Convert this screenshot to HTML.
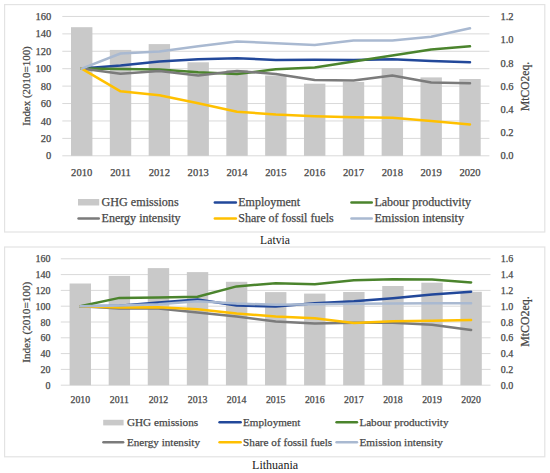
<!DOCTYPE html>
<html><head><meta charset="utf-8"><title>Latvia and Lithuania decomposition</title>
<style>
html,body{margin:0;padding:0;background:#fff;}
body{width:550px;height:473px;overflow:hidden;}
svg{display:block;font-family:"Liberation Serif", serif;}
</style></head>
<body>
<svg width="550" height="473" viewBox="0 0 550 473">
<rect x="0" y="0" width="550" height="473" fill="#fff"/>
<rect x="4.6" y="4.6" width="540.1999999999999" height="227.4" fill="#fff" stroke="#E3E3E3" stroke-width="1.2"/>
<line x1="62.3" y1="155.8" x2="489.4" y2="155.8" stroke="#D9D9D9" stroke-width="1"/>
<line x1="62.3" y1="138.38" x2="489.4" y2="138.38" stroke="#D9D9D9" stroke-width="1"/>
<line x1="62.3" y1="120.96" x2="489.4" y2="120.96" stroke="#D9D9D9" stroke-width="1"/>
<line x1="62.3" y1="103.54" x2="489.4" y2="103.54" stroke="#D9D9D9" stroke-width="1"/>
<line x1="62.3" y1="86.12" x2="489.4" y2="86.12" stroke="#D9D9D9" stroke-width="1"/>
<line x1="62.3" y1="68.7" x2="489.4" y2="68.7" stroke="#D9D9D9" stroke-width="1"/>
<line x1="62.3" y1="51.28" x2="489.4" y2="51.28" stroke="#D9D9D9" stroke-width="1"/>
<line x1="62.3" y1="33.86" x2="489.4" y2="33.86" stroke="#D9D9D9" stroke-width="1"/>
<line x1="62.3" y1="16.44" x2="489.4" y2="16.44" stroke="#D9D9D9" stroke-width="1"/>
<rect x="71" y="27.2" width="21.4" height="128.6" fill="#C9C9C9"/>
<rect x="109.83" y="49.9" width="21.4" height="105.9" fill="#C9C9C9"/>
<rect x="148.66" y="44.1" width="21.4" height="111.7" fill="#C9C9C9"/>
<rect x="187.49" y="62.3" width="21.4" height="93.5" fill="#C9C9C9"/>
<rect x="226.32" y="69.9" width="21.4" height="85.9" fill="#C9C9C9"/>
<rect x="265.15" y="75.5" width="21.4" height="80.3" fill="#C9C9C9"/>
<rect x="303.98" y="83.7" width="21.4" height="72.1" fill="#C9C9C9"/>
<rect x="342.81" y="81.9" width="21.4" height="73.9" fill="#C9C9C9"/>
<rect x="381.64" y="68.1" width="21.4" height="87.7" fill="#C9C9C9"/>
<rect x="420.47" y="77.4" width="21.4" height="78.4" fill="#C9C9C9"/>
<rect x="459.3" y="79" width="21.4" height="76.8" fill="#C9C9C9"/>
<path d="M81.7,68.6 L120.53,65.6 L159.36,61.5 L198.19,59.3 L237.02,58.3 L275.85,59.9 L314.68,59.7 L353.51,59.9 L392.34,59.3 L431.17,61 L470,62.3" fill="none" stroke="#22489A" stroke-width="2.5" stroke-linecap="round" stroke-linejoin="round"/>
<path d="M81.7,68.6 L120.53,69.1 L159.36,69.5 L198.19,72.3 L237.02,74.1 L275.85,69.2 L314.68,67.5 L353.51,61.4 L392.34,55.6 L431.17,49.5 L470,46.3" fill="none" stroke="#4B842D" stroke-width="2.5" stroke-linecap="round" stroke-linejoin="round"/>
<path d="M81.7,68.6 L120.53,73.8 L159.36,71 L198.19,75.4 L237.02,71 L275.85,74 L314.68,80 L353.51,80.5 L392.34,75.4 L431.17,82.6 L470,83.2" fill="none" stroke="#7B7B7B" stroke-width="2.5" stroke-linecap="round" stroke-linejoin="round"/>
<path d="M81.7,68.6 L120.53,91.3 L159.36,95.2 L198.19,103.2 L237.02,111.8 L275.85,114.5 L314.68,116.2 L353.51,117.3 L392.34,117.7 L431.17,120.9 L470,124.5" fill="none" stroke="#FFC000" stroke-width="2.5" stroke-linecap="round" stroke-linejoin="round"/>
<path d="M81.7,68.6 L120.53,53.5 L159.36,51.4 L198.19,46.3 L237.02,41.4 L275.85,43.2 L314.68,45 L353.51,40.5 L392.34,40.5 L431.17,36.8 L470,28.3" fill="none" stroke="#A9B9D1" stroke-width="2.5" stroke-linecap="round" stroke-linejoin="round"/>
<text x="51.2" y="159.4" font-size="10.5" fill="#474747" text-anchor="end" stroke="#474747" stroke-width="0.25">0</text>
<text x="51.2" y="141.98" font-size="10.5" fill="#474747" text-anchor="end" stroke="#474747" stroke-width="0.25">20</text>
<text x="51.2" y="124.56" font-size="10.5" fill="#474747" text-anchor="end" stroke="#474747" stroke-width="0.25">40</text>
<text x="51.2" y="107.14" font-size="10.5" fill="#474747" text-anchor="end" stroke="#474747" stroke-width="0.25">60</text>
<text x="51.2" y="89.72" font-size="10.5" fill="#474747" text-anchor="end" stroke="#474747" stroke-width="0.25">80</text>
<text x="51.2" y="72.3" font-size="10.5" fill="#474747" text-anchor="end" stroke="#474747" stroke-width="0.25">100</text>
<text x="51.2" y="54.88" font-size="10.5" fill="#474747" text-anchor="end" stroke="#474747" stroke-width="0.25">120</text>
<text x="51.2" y="37.46" font-size="10.5" fill="#474747" text-anchor="end" stroke="#474747" stroke-width="0.25">140</text>
<text x="51.2" y="20.04" font-size="10.5" fill="#474747" text-anchor="end" stroke="#474747" stroke-width="0.25">160</text>
<text x="500.4" y="159.4" font-size="10.5" fill="#474747" stroke="#474747" stroke-width="0.25">0.0</text>
<text x="500.4" y="136.18" font-size="10.5" fill="#474747" stroke="#474747" stroke-width="0.25">0.2</text>
<text x="500.4" y="112.97" font-size="10.5" fill="#474747" stroke="#474747" stroke-width="0.25">0.4</text>
<text x="500.4" y="89.75" font-size="10.5" fill="#474747" stroke="#474747" stroke-width="0.25">0.6</text>
<text x="500.4" y="66.53" font-size="10.5" fill="#474747" stroke="#474747" stroke-width="0.25">0.8</text>
<text x="500.4" y="43.32" font-size="10.5" fill="#474747" stroke="#474747" stroke-width="0.25">1.0</text>
<text x="500.4" y="20.1" font-size="10.5" fill="#474747" stroke="#474747" stroke-width="0.25">1.2</text>
<text x="81.7" y="175.5" font-size="10.6" fill="#474747" text-anchor="middle" stroke="#474747" stroke-width="0.25">2010</text>
<text x="120.53" y="175.5" font-size="10.6" fill="#474747" text-anchor="middle" stroke="#474747" stroke-width="0.25">2011</text>
<text x="159.36" y="175.5" font-size="10.6" fill="#474747" text-anchor="middle" stroke="#474747" stroke-width="0.25">2012</text>
<text x="198.19" y="175.5" font-size="10.6" fill="#474747" text-anchor="middle" stroke="#474747" stroke-width="0.25">2013</text>
<text x="237.02" y="175.5" font-size="10.6" fill="#474747" text-anchor="middle" stroke="#474747" stroke-width="0.25">2014</text>
<text x="275.85" y="175.5" font-size="10.6" fill="#474747" text-anchor="middle" stroke="#474747" stroke-width="0.25">2015</text>
<text x="314.68" y="175.5" font-size="10.6" fill="#474747" text-anchor="middle" stroke="#474747" stroke-width="0.25">2016</text>
<text x="353.51" y="175.5" font-size="10.6" fill="#474747" text-anchor="middle" stroke="#474747" stroke-width="0.25">2017</text>
<text x="392.34" y="175.5" font-size="10.6" fill="#474747" text-anchor="middle" stroke="#474747" stroke-width="0.25">2018</text>
<text x="431.17" y="175.5" font-size="10.6" fill="#474747" text-anchor="middle" stroke="#474747" stroke-width="0.25">2019</text>
<text x="470" y="175.5" font-size="10.6" fill="#474747" text-anchor="middle" stroke="#474747" stroke-width="0.25">2020</text>
<text x="29.6" y="86" font-size="11" fill="#474747" text-anchor="middle" textLength="79.5" lengthAdjust="spacingAndGlyphs" transform="rotate(-90 29.6 86)" stroke="#474747" stroke-width="0.25">Index (2010=100)</text>
<text x="528.6" y="86.4" font-size="11.5" fill="#474747" text-anchor="middle" textLength="49" lengthAdjust="spacingAndGlyphs" transform="rotate(-90 528.6 86.4)" stroke="#474747" stroke-width="0.25">MtCO2eq.</text>
<rect x="78" y="199" width="21.2" height="6.5" fill="#C9C9C9"/>
<text x="101.6" y="205.7" font-size="12" fill="#474747" textLength="77" lengthAdjust="spacingAndGlyphs" stroke="#474747" stroke-width="0.25">GHG emissions</text>
<line x1="214.85" y1="202.4" x2="235.85" y2="202.4" stroke="#22489A" stroke-width="2.5" stroke-linecap="round"/>
<text x="238.3" y="205.7" font-size="12" fill="#474747" textLength="61.8" lengthAdjust="spacingAndGlyphs" stroke="#474747" stroke-width="0.25">Employment</text>
<line x1="351.45" y1="202.4" x2="371.75" y2="202.4" stroke="#4B842D" stroke-width="2.5" stroke-linecap="round"/>
<text x="374.4" y="205.7" font-size="12" fill="#474747" textLength="96.6" lengthAdjust="spacingAndGlyphs" stroke="#474747" stroke-width="0.25">Labour productivity</text>
<line x1="78.55" y1="218.4" x2="98.75" y2="218.4" stroke="#7B7B7B" stroke-width="2.5" stroke-linecap="round"/>
<text x="101.6" y="222.3" font-size="12" fill="#474747" textLength="79" lengthAdjust="spacingAndGlyphs" stroke="#474747" stroke-width="0.25">Energy intensity</text>
<line x1="214.85" y1="218.4" x2="235.85" y2="218.4" stroke="#FFC000" stroke-width="2.5" stroke-linecap="round"/>
<text x="238.3" y="222.3" font-size="12" fill="#474747" textLength="95.4" lengthAdjust="spacingAndGlyphs" stroke="#474747" stroke-width="0.25">Share of fossil fuels</text>
<line x1="351.45" y1="218.4" x2="371.75" y2="218.4" stroke="#A9B9D1" stroke-width="2.5" stroke-linecap="round"/>
<text x="374.4" y="222.3" font-size="12" fill="#474747" textLength="89.6" lengthAdjust="spacingAndGlyphs" stroke="#474747" stroke-width="0.25">Emission intensity</text>
<text x="275" y="243.6" font-size="12" fill="#1a1a1a" text-anchor="middle" textLength="29.8" lengthAdjust="spacingAndGlyphs">Latvia</text>
<rect x="4.6" y="247" width="540.1999999999999" height="209.8" fill="#fff" stroke="#E3E3E3" stroke-width="1.2"/>
<line x1="60.8" y1="385.2" x2="490.5" y2="385.2" stroke="#D9D9D9" stroke-width="1"/>
<line x1="60.8" y1="369.4" x2="490.5" y2="369.4" stroke="#D9D9D9" stroke-width="1"/>
<line x1="60.8" y1="353.6" x2="490.5" y2="353.6" stroke="#D9D9D9" stroke-width="1"/>
<line x1="60.8" y1="337.8" x2="490.5" y2="337.8" stroke="#D9D9D9" stroke-width="1"/>
<line x1="60.8" y1="322" x2="490.5" y2="322" stroke="#D9D9D9" stroke-width="1"/>
<line x1="60.8" y1="306.2" x2="490.5" y2="306.2" stroke="#D9D9D9" stroke-width="1"/>
<line x1="60.8" y1="290.4" x2="490.5" y2="290.4" stroke="#D9D9D9" stroke-width="1"/>
<line x1="60.8" y1="274.6" x2="490.5" y2="274.6" stroke="#D9D9D9" stroke-width="1"/>
<line x1="60.8" y1="258.8" x2="490.5" y2="258.8" stroke="#D9D9D9" stroke-width="1"/>
<rect x="69.6" y="283.5" width="21.4" height="101.7" fill="#C9C9C9"/>
<rect x="108.68" y="275.9" width="21.4" height="109.3" fill="#C9C9C9"/>
<rect x="147.76" y="268.1" width="21.4" height="117.1" fill="#C9C9C9"/>
<rect x="186.84" y="272.1" width="21.4" height="113.1" fill="#C9C9C9"/>
<rect x="225.92" y="281.8" width="21.4" height="103.4" fill="#C9C9C9"/>
<rect x="265" y="292.1" width="21.4" height="93.1" fill="#C9C9C9"/>
<rect x="304.08" y="293.6" width="21.4" height="91.6" fill="#C9C9C9"/>
<rect x="343.16" y="292" width="21.4" height="93.2" fill="#C9C9C9"/>
<rect x="382.24" y="286" width="21.4" height="99.2" fill="#C9C9C9"/>
<rect x="421.32" y="282.7" width="21.4" height="102.5" fill="#C9C9C9"/>
<rect x="460.4" y="291.8" width="21.4" height="93.4" fill="#C9C9C9"/>
<path d="M80.3,306.2 L119.38,305.7 L158.46,302.5 L197.54,299.6 L236.62,305.5 L275.7,306.4 L314.78,303.3 L353.86,301.3 L392.94,298.2 L432.02,294.4 L471.1,291.8" fill="none" stroke="#22489A" stroke-width="2.5" stroke-linecap="round" stroke-linejoin="round"/>
<path d="M80.3,306.2 L119.38,297.9 L158.46,297.4 L197.54,296.8 L236.62,286.4 L275.7,283.2 L314.78,284.2 L353.86,280.3 L392.94,279.2 L432.02,279.6 L471.1,282.4" fill="none" stroke="#4B842D" stroke-width="2.5" stroke-linecap="round" stroke-linejoin="round"/>
<path d="M80.3,306.2 L119.38,308.5 L158.46,308.6 L197.54,312.4 L236.62,316.4 L275.7,321.6 L314.78,323.6 L353.86,322.7 L392.94,322.7 L432.02,324.8 L471.1,330" fill="none" stroke="#7B7B7B" stroke-width="2.5" stroke-linecap="round" stroke-linejoin="round"/>
<path d="M80.3,306.2 L119.38,307.4 L158.46,307.3 L197.54,309.3 L236.62,313.6 L275.7,316.4 L314.78,318.2 L353.86,322.9 L392.94,321.3 L432.02,320.7 L471.1,320" fill="none" stroke="#FFC000" stroke-width="2.5" stroke-linecap="round" stroke-linejoin="round"/>
<path d="M80.3,306.2 L119.38,305.4 L158.46,304.2 L197.54,301.3 L236.62,303.6 L275.7,304.7 L314.78,304.2 L353.86,303.8 L392.94,303.6 L432.02,303.2 L471.1,303.3" fill="none" stroke="#A9B9D1" stroke-width="2.5" stroke-linecap="round" stroke-linejoin="round"/>
<text x="50.6" y="388.7" font-size="10" fill="#474747" text-anchor="end" stroke="#474747" stroke-width="0.25">0</text>
<text x="50.6" y="372.9" font-size="10" fill="#474747" text-anchor="end" stroke="#474747" stroke-width="0.25">20</text>
<text x="50.6" y="357.1" font-size="10" fill="#474747" text-anchor="end" stroke="#474747" stroke-width="0.25">40</text>
<text x="50.6" y="341.3" font-size="10" fill="#474747" text-anchor="end" stroke="#474747" stroke-width="0.25">60</text>
<text x="50.6" y="325.5" font-size="10" fill="#474747" text-anchor="end" stroke="#474747" stroke-width="0.25">80</text>
<text x="50.6" y="309.7" font-size="10" fill="#474747" text-anchor="end" stroke="#474747" stroke-width="0.25">100</text>
<text x="50.6" y="293.9" font-size="10" fill="#474747" text-anchor="end" stroke="#474747" stroke-width="0.25">120</text>
<text x="50.6" y="278.1" font-size="10" fill="#474747" text-anchor="end" stroke="#474747" stroke-width="0.25">140</text>
<text x="50.6" y="262.3" font-size="10" fill="#474747" text-anchor="end" stroke="#474747" stroke-width="0.25">160</text>
<text x="500.8" y="388.7" font-size="10" fill="#474747" stroke="#474747" stroke-width="0.25">0.0</text>
<text x="500.8" y="372.9" font-size="10" fill="#474747" stroke="#474747" stroke-width="0.25">0.2</text>
<text x="500.8" y="357.1" font-size="10" fill="#474747" stroke="#474747" stroke-width="0.25">0.4</text>
<text x="500.8" y="341.3" font-size="10" fill="#474747" stroke="#474747" stroke-width="0.25">0.6</text>
<text x="500.8" y="325.5" font-size="10" fill="#474747" stroke="#474747" stroke-width="0.25">0.8</text>
<text x="500.8" y="309.7" font-size="10" fill="#474747" stroke="#474747" stroke-width="0.25">1.0</text>
<text x="500.8" y="293.9" font-size="10" fill="#474747" stroke="#474747" stroke-width="0.25">1.2</text>
<text x="500.8" y="278.1" font-size="10" fill="#474747" stroke="#474747" stroke-width="0.25">1.4</text>
<text x="500.8" y="262.3" font-size="10" fill="#474747" stroke="#474747" stroke-width="0.25">1.6</text>
<text x="80.3" y="402.8" font-size="9.8" fill="#474747" text-anchor="middle" stroke="#474747" stroke-width="0.25">2010</text>
<text x="119.38" y="402.8" font-size="9.8" fill="#474747" text-anchor="middle" stroke="#474747" stroke-width="0.25">2011</text>
<text x="158.46" y="402.8" font-size="9.8" fill="#474747" text-anchor="middle" stroke="#474747" stroke-width="0.25">2012</text>
<text x="197.54" y="402.8" font-size="9.8" fill="#474747" text-anchor="middle" stroke="#474747" stroke-width="0.25">2013</text>
<text x="236.62" y="402.8" font-size="9.8" fill="#474747" text-anchor="middle" stroke="#474747" stroke-width="0.25">2014</text>
<text x="275.7" y="402.8" font-size="9.8" fill="#474747" text-anchor="middle" stroke="#474747" stroke-width="0.25">2015</text>
<text x="314.78" y="402.8" font-size="9.8" fill="#474747" text-anchor="middle" stroke="#474747" stroke-width="0.25">2016</text>
<text x="353.86" y="402.8" font-size="9.8" fill="#474747" text-anchor="middle" stroke="#474747" stroke-width="0.25">2017</text>
<text x="392.94" y="402.8" font-size="9.8" fill="#474747" text-anchor="middle" stroke="#474747" stroke-width="0.25">2018</text>
<text x="432.02" y="402.8" font-size="9.8" fill="#474747" text-anchor="middle" stroke="#474747" stroke-width="0.25">2019</text>
<text x="471.1" y="402.8" font-size="9.8" fill="#474747" text-anchor="middle" stroke="#474747" stroke-width="0.25">2020</text>
<text x="29.6" y="322.3" font-size="11" fill="#474747" text-anchor="middle" textLength="81" lengthAdjust="spacingAndGlyphs" transform="rotate(-90 29.6 322.3)" stroke="#474747" stroke-width="0.25">Index (2010=100)</text>
<text x="529.2" y="321.6" font-size="11.8" fill="#474747" text-anchor="middle" textLength="50.5" lengthAdjust="spacingAndGlyphs" transform="rotate(-90 529.2 321.6)" stroke="#474747" stroke-width="0.25">MtCO2eq.</text>
<rect x="103.2" y="419.8" width="20.4" height="5.6" fill="#C9C9C9"/>
<text x="126.9" y="426" font-size="11.2" fill="#474747" textLength="71.2" lengthAdjust="spacingAndGlyphs" stroke="#474747" stroke-width="0.25">GHG emissions</text>
<line x1="219.55" y1="422.3" x2="240.65" y2="422.3" stroke="#22489A" stroke-width="2.5" stroke-linecap="round"/>
<text x="243.1" y="426" font-size="11.2" fill="#474747" textLength="57.3" lengthAdjust="spacingAndGlyphs" stroke="#474747" stroke-width="0.25">Employment</text>
<line x1="336.55" y1="422.3" x2="356.95" y2="422.3" stroke="#4B842D" stroke-width="2.5" stroke-linecap="round"/>
<text x="359.4" y="426" font-size="11.2" fill="#474747" textLength="89.1" lengthAdjust="spacingAndGlyphs" stroke="#474747" stroke-width="0.25">Labour productivity</text>
<line x1="103.45" y1="442.3" x2="123.15" y2="442.3" stroke="#7B7B7B" stroke-width="2.5" stroke-linecap="round"/>
<text x="126.9" y="445.6" font-size="11.2" fill="#474747" textLength="73.1" lengthAdjust="spacingAndGlyphs" stroke="#474747" stroke-width="0.25">Energy intensity</text>
<line x1="219.55" y1="442.3" x2="240.65" y2="442.3" stroke="#FFC000" stroke-width="2.5" stroke-linecap="round"/>
<text x="243.1" y="445.6" font-size="11.2" fill="#474747" textLength="89.1" lengthAdjust="spacingAndGlyphs" stroke="#474747" stroke-width="0.25">Share of fossil fuels</text>
<line x1="336.55" y1="442.3" x2="356.95" y2="442.3" stroke="#A9B9D1" stroke-width="2.5" stroke-linecap="round"/>
<text x="359.4" y="445.6" font-size="11.2" fill="#474747" textLength="83.5" lengthAdjust="spacingAndGlyphs" stroke="#474747" stroke-width="0.25">Emission intensity</text>
<text x="275.1" y="468.6" font-size="12" fill="#1a1a1a" text-anchor="middle" textLength="46.1" lengthAdjust="spacingAndGlyphs">Lithuania</text>
</svg>
</body></html>
